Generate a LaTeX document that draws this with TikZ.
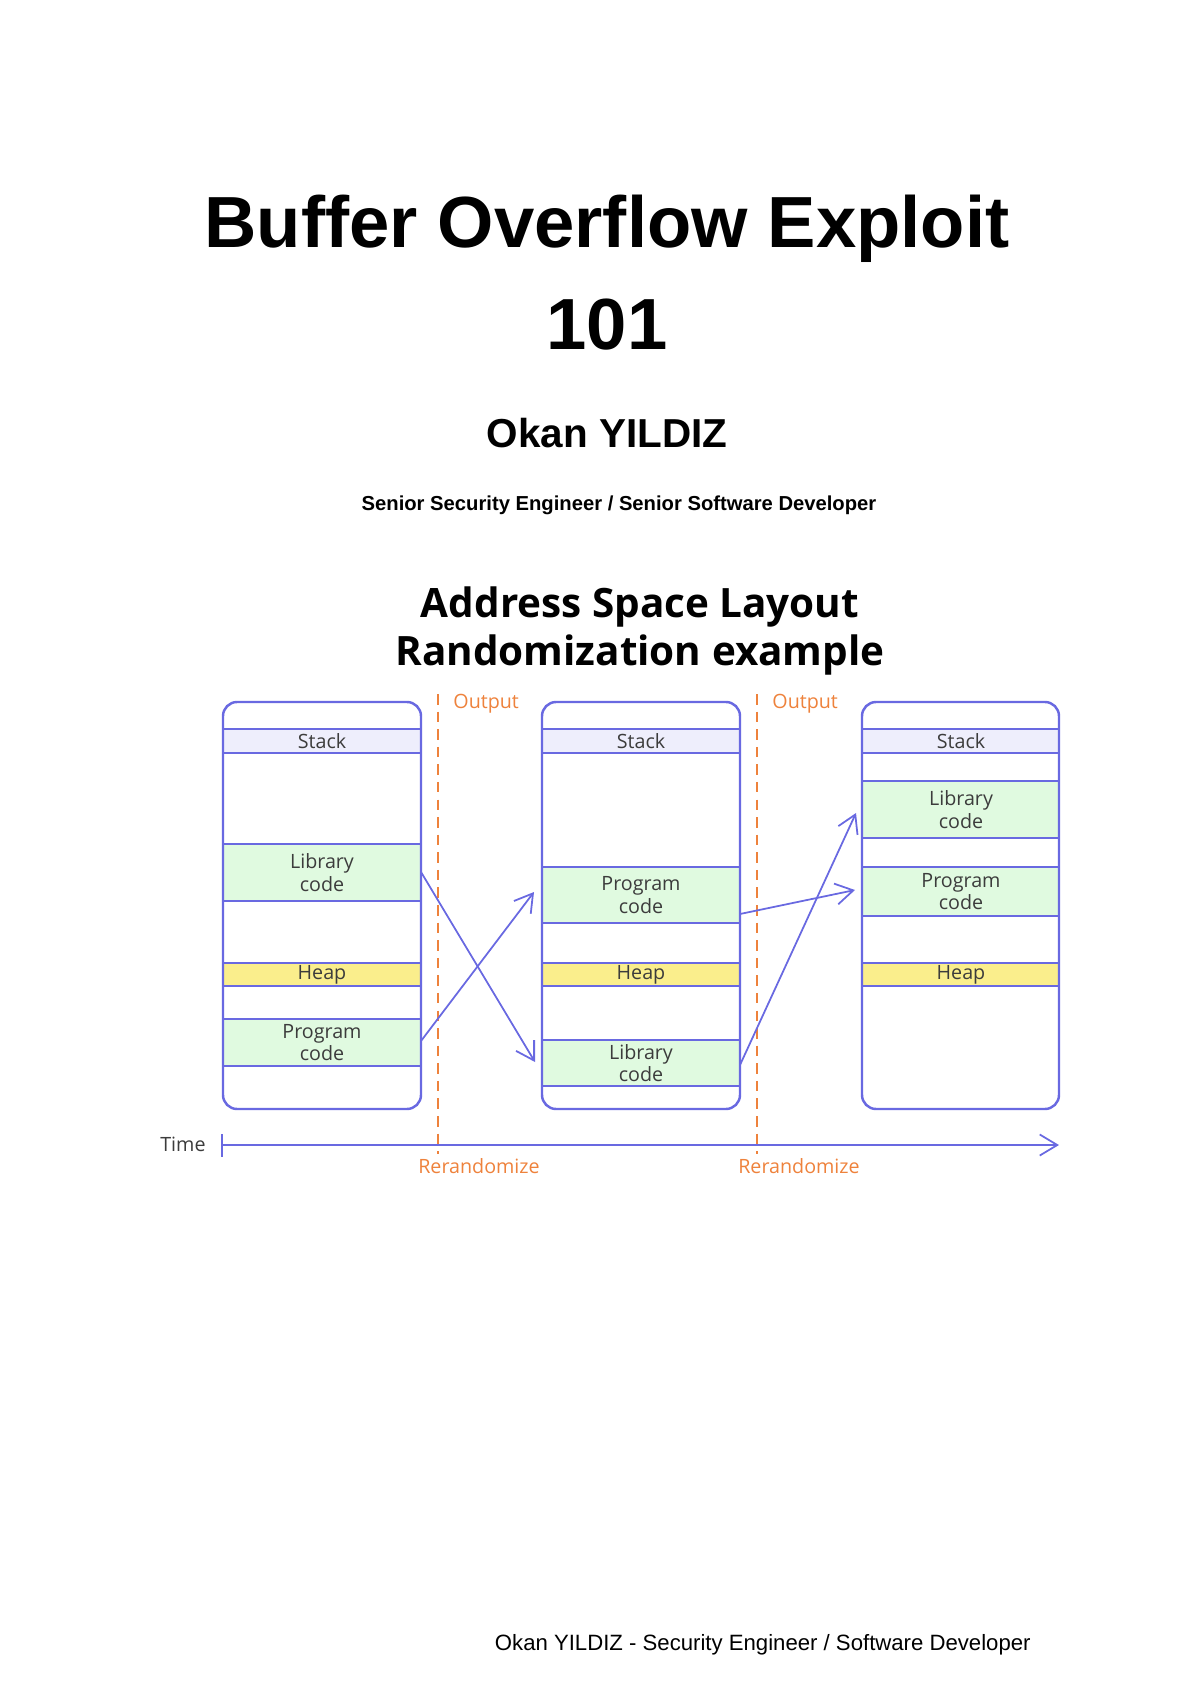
\documentclass[tikz,border=0pt]{standalone}
\usepackage{fontspec}
\setmainfont{Liberation Sans}
\newfontfamily\dfont{Open Sans}
\usetikzlibrary{arrows.meta}
\definecolor{bv}{RGB}{105,105,225}
\definecolor{stk}{RGB}{238,238,252}
\definecolor{grn}{RGB}{224,250,224}
\definecolor{hp}{RGB}{250,238,140}
\definecolor{org}{RGB}{238,130,60}
\definecolor{txt}{RGB}{60,60,60}
\tikzset{
 mem/.style={draw=bv,line width=0.7pt,rounded corners=4pt},
 band/.style={draw=bv,line width=0.7pt},
 lbl/.style={font=\dfont\fontsize{5.6}{6.4}\selectfont,text=txt,align=center},
 olbl/.style={font=\dfont\fontsize{5.6}{6.4}\selectfont,text=org},
 mv/.style={draw=bv,line width=0.5pt,-{Straight Barb[length=5pt,width=6pt]}},
 sep/.style={draw=org,dashed,line width=0.5pt,dash pattern=on 3pt off 2pt}
}
\begin{document}
\begin{tikzpicture}[x=0.01cm,y=-0.01cm]
\useasboundingbox (0,0) rectangle (1200,1694);
\node[font=\bfseries\fontsize{20.6}{25}\selectfont] (t1) at (607,229) {Buffer Overflow Exploit};
\node[font=\bfseries\fontsize{20.6}{25}\selectfont] (t2) at (607,325) {101};
\node[font=\bfseries\fontsize{11.5}{14}\selectfont] (au) at (607,433) {Okan YILDIZ};
\node[font=\bfseries\fontsize{5.75}{7}\selectfont] (st) at (619,505) {Senior Security Engineer / Senior Software Developer};
\node[anchor=east,font=\fontsize{6.3}{8}\selectfont] (ft) at (1043,1645) {Okan YILDIZ - Security Engineer / Software Developer};
\node[font=\dfont\bfseries\fontsize{11.5}{13.5}\selectfont,align=center] (dt) at (640,631) {Address Space Layout\\Randomization example};
\begin{scope}[yshift=0.05cm]
% boxes
\foreach \n/\xa in {1/223,2/542,3/862}{
 \pgfmathsetmacro\xb{\xa+198}
 \fill[white] (\xa,707) rectangle (\xb,1114);
 \fill[stk] (\xa,734) rectangle (\xb,758);
 \draw[band] (\xa,734) -- (\xb,734) (\xa,758) -- (\xb,758);
 \node[lbl] (s\n) at ({\xa+99},746) {Stack};
 \fill[hp] (\xa,968) rectangle (\xb,991);
 \draw[band] (\xa,968) -- (\xb,968) (\xa,991) -- (\xb,991);
 \node[lbl] (h\n) at ({\xa+99},979.5) {Heap};
}
\newcommand\blk[5]{% x1 y1 y2 name text
 \fill[grn] (#1,#2) rectangle ({#1+198},#3);
 \draw[band] (#1,#2) -- ({#1+198},#2) (#1,#3) -- ({#1+198},#3);
 \node[lbl] (#4) at ({#1+99},{(#2+#3)/2}) {#5};
}
\blk{223}{849}{906}{L1}{Library\\code}
\blk{223}{1024}{1071}{P1}{Program\\code}
\blk{542}{872}{928}{P2}{Program\\code}
\blk{542}{1045}{1091}{L2}{Library\\code}
\blk{862}{786}{843}{L3}{Library\\code}
\blk{862}{872}{921}{P3}{Program\\code}
\draw[mem] (223,707) rectangle (421,1114);
\draw[mem] (542,707) rectangle (740,1114);
\draw[mem] (862,707) rectangle (1059,1114);
% separators
\draw[sep] (438,699) -- (438,1159);
\draw[sep] (757,699) -- (757,1159);
\node[olbl,anchor=west] (o1) at (441,709) {Output};
\node[olbl,anchor=west] (o2) at (760,709) {Output};
\node[olbl] (r1) at (479,1171) {Rerandomize};
\node[olbl] (r2) at (799,1171) {Rerandomize};
% time axis
\coordinate (ta) at (222,1150);
\coordinate (tb) at (1059,1150);
\draw[bv,line width=0.6pt] (222,1139) -- (222,1162);
\draw[mv] (ta) -- (tb);
\node[lbl,anchor=east] (tm) at (218,1149) {Time};
% moves
\coordinate (a1) at (421,877); \coordinate (b1) at (535,1067);
\coordinate (a2) at (421,1046); \coordinate (b2) at (534,897);
\coordinate (a3) at (740,919); \coordinate (b3) at (855,895);
\coordinate (a4) at (740,1070); \coordinate (b4) at (856,818);
\draw[mv] (a1) -- (b1);
\draw[mv] (a2) -- (b2);
\draw[mv] (a3) -- (b3);
\draw[mv] (a4) -- (b4);
\end{scope}
\end{tikzpicture}
\end{document}
